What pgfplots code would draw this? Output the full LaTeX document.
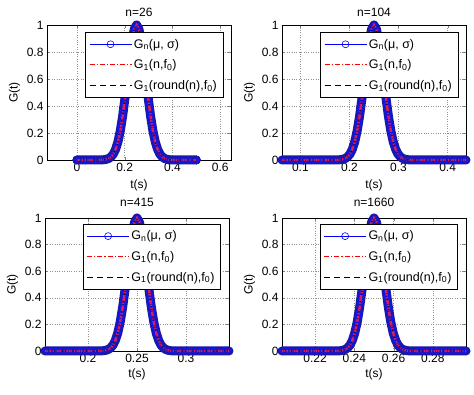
\documentclass[border=0pt]{standalone}
\usepackage{fontspec}
\setmainfont{Liberation Sans}
\usepackage{pgfplots}
\usepackage{pgfplotstable}
\pgfplotsset{compat=1.18}

% columns: t for n=26, n=104, n=415, n=1660 ; G(t)
\pgfplotstableread{
tA tB tC tD G
0 0.0625 0.15625 0.203125 0
0 0.0638 0.1569 0.20345 0
0 0.0736 0.1618 0.2059 0
0 0.0834 0.1667 0.20835 0
0 0.0932 0.1716 0.2108 0
0 0.103 0.1765 0.21325 0
0 0.1128 0.1814 0.2157 0
0 0.1226 0.1863 0.21815 0
0.016 0.1324 0.1912 0.2206 0
0.0355 0.1422 0.1961 0.22305 0
0.055 0.152 0.201 0.2255 0
0.0745 0.1618 0.2059 0.22795 0
0.094 0.1716 0.2108 0.2304 0.00034
0.10375 0.1765 0.21325 0.231625 0.00088
0.1135 0.1814 0.2157 0.23285 0.00219
0.12325 0.1863 0.21815 0.234075 0.00508
0.133 0.1912 0.2206 0.2353 0.01111
0.14275 0.1961 0.22305 0.236525 0.02279
0.1525 0.201 0.2255 0.23775 0.04394
0.16225 0.2059 0.22795 0.238975 0.07956
0.172 0.2108 0.2304 0.2402 0.13534
0.18175 0.2157 0.23285 0.241425 0.21627
0.1915 0.2206 0.2353 0.24265 0.32465
0.20125 0.2255 0.23775 0.243875 0.45783
0.211 0.2304 0.2402 0.2451 0.60653
0.22075 0.2353 0.24265 0.246325 0.75484
0.2305 0.2402 0.2451 0.24755 0.88250
0.24025 0.2451 0.24755 0.248775 0.96923
0.25 0.25 0.25 0.25 1
0.25975 0.2549 0.25245 0.251225 0.96923
0.2695 0.2598 0.2549 0.25245 0.88250
0.27925 0.2647 0.25735 0.253675 0.75484
0.289 0.2696 0.2598 0.2549 0.60653
0.29875 0.2745 0.26225 0.256125 0.45783
0.3085 0.2794 0.2647 0.25735 0.32465
0.31825 0.2843 0.26715 0.258575 0.21627
0.328 0.2892 0.2696 0.2598 0.13534
0.33775 0.2941 0.27205 0.261025 0.07956
0.3475 0.299 0.2745 0.26225 0.04394
0.35725 0.3039 0.27695 0.263475 0.02279
0.367 0.3088 0.2794 0.2647 0.01111
0.37675 0.3137 0.28185 0.265925 0.00508
0.3865 0.3186 0.2843 0.26715 0.00219
0.39625 0.3235 0.28675 0.268375 0.00088
0.406 0.3284 0.2892 0.2696 0.00034
0.4255 0.3382 0.2941 0.27205 0
0.445 0.348 0.299 0.2745 0
0.4645 0.3578 0.3039 0.27695 0
0.484 0.3676 0.3088 0.2794 0
0.5 0.3774 0.3137 0.28185 0
0.5 0.3872 0.3186 0.2843 0
0.5 0.397 0.3235 0.28675 0
0.5 0.4068 0.3284 0.2892 0
0.5 0.4166 0.3333 0.29165 0
0.5 0.4264 0.3382 0.2941 0
0.5 0.4362 0.3431 0.29655 0
0.5 0.4375 0.34375 0.296875 0
}\gauss

\definecolor{navy}{RGB}{25,25,165}
\definecolor{mblue}{RGB}{20,20,235}
\definecolor{mred}{RGB}{215,30,85}

\newcommand{\fs}{\fontsize{12}{14}\selectfont}
\newcommand{\fl}{\fontsize{12.5}{14.5}\selectfont}

\pgfplotsset{
  panel/.style={
    scale only axis, width=184pt, height=#1,
    ymin=0, ymax=1,
    ytick={0,0.2,0.4,0.6,0.8,1},
    yticklabels={0,0.2,0.4,0.6,0.8,1},
    /pgf/number format/assume math mode=true,
    tick label style={font=\fs},
    tick align=inside, major tick length=3pt,
    grid=major, grid style={dotted, gray!85, line width=0.5pt},
    axis line style={black, line width=0.5pt},
    clip=false,
    ylabel={G(t)}, xlabel={t(s)},
    label style={font=\fs},
    ylabel style={at={(axis description cs:-0.176,0.5)}, anchor=center},
    title style={font=\fs, anchor=center, yshift=-6pt},
    legend style={draw=black, fill=white, font=\fl, line width=0.5pt,
      cells={anchor=west}, row sep=6pt, inner xsep=4pt, inner ysep=5pt},
    legend image code/.code={\draw[mark repeat=2,mark phase=2,##1] plot coordinates {(0pt,0pt) (21pt,0pt) (42pt,0pt)};},
  },
  band/.style={navy, line width=9pt, line cap=round, line join=round},
  bandin/.style={mblue, line width=6pt, line cap=round, line join=round},
  bluecurve/.style={mblue, line width=0.8pt, mark=o, mark size=3.8pt,
    mark options={draw=navy, line width=0.5pt, solid}},
  redcurve/.style={mred, line width=2.4pt, dash pattern=on 6pt off 1.5pt on 1.5pt off 1.5pt},
  blackcurve/.style={black, line width=0.8pt, dash pattern=on 5pt off 3pt},
}

\newcommand{\curves}[1]{%
  \addplot[band, forget plot] table[x=#1, y=G] {\gauss};
  \addplot[bandin, forget plot] table[x=#1, y=G] {\gauss};
  \addplot[bluecurve, forget plot] table[x=#1, y=G] {\gauss};
  \addplot[blackcurve, forget plot] table[x=#1, y=G] {\gauss};
  \addplot[redcurve, forget plot] table[x=#1, y=G] {\gauss};
  \addlegendimage{blue, line width=0.6pt, mark=o, mark size=3.5pt}
  \addlegendentry{G\textsubscript{n}(μ, σ)}
  \addlegendimage{red, line width=0.7pt, dash pattern=on 5pt off 2pt on 1.2pt off 2pt}
  \addlegendentry{G\textsubscript{1}(n,f\textsubscript{0})}
  \addlegendimage{black, line width=0.6pt, dash pattern=on 6pt off 4pt}
  \addlegendentry{G\textsubscript{1}(round(n),f\textsubscript{0})}
}

\begin{document}
\begin{tikzpicture}
\useasboundingbox (0pt,0pt) rectangle (474pt,395pt);

% top-left n=26
\begin{axis}[panel=135pt, at={(47pt,235pt)}, anchor=south west,
  xmin=-0.125, xmax=0.645,
  xtick={0,0.2,0.4,0.6}, xticklabels={0,0.2,0.4,0.6},
  title={n=26}, title style={at={(axis description cs:0.5,1.091)}},
  xlabel style={at={(axis description cs:0.5,-0.185)}, anchor=center},
  legend style={at={(axis description cs:0.957,0.95)}, anchor=north east}]
\curves{tA}
\end{axis}

% top-right n=104
\begin{axis}[panel=135pt, at={(282pt,235pt)}, anchor=south west,
  xmin=0.0625, xmax=0.4375,
  xtick={0.1,0.2,0.3,0.4}, xticklabels={0.1,0.2,0.3,0.4},
  title={n=104}, title style={at={(axis description cs:0.5,1.091)}},
  xlabel style={at={(axis description cs:0.5,-0.185)}, anchor=center},
  legend style={at={(axis description cs:0.957,0.95)}, anchor=north east}]
\curves{tB}
\end{axis}

% bottom-left n=415
\begin{axis}[panel=133pt, at={(45pt,44pt)}, anchor=south west,
  xmin=0.15625, xmax=0.34375,
  xtick={0.2,0.25,0.3}, xticklabels={0.2,0.25,0.3},
  title={n=415}, title style={at={(axis description cs:0.5,1.12)}},
  xlabel style={at={(axis description cs:0.5,-0.175)}, anchor=center},
  legend style={at={(axis description cs:0.955,0.958)}, anchor=north east}]
\curves{tC}
\end{axis}

% bottom-right n=1660
\begin{axis}[panel=133pt, at={(282pt,44pt)}, anchor=south west,
  xmin=0.203125, xmax=0.296875,
  xtick={0.22,0.24,0.26,0.28}, xticklabels={0.22,0.24,0.26,0.28},
  title={n=1660}, title style={at={(axis description cs:0.5,1.12)}},
  xlabel style={at={(axis description cs:0.5,-0.175)}, anchor=center},
  legend style={at={(axis description cs:0.955,0.958)}, anchor=north east}]
\curves{tD}
\end{axis}
\end{tikzpicture}
\end{document}
